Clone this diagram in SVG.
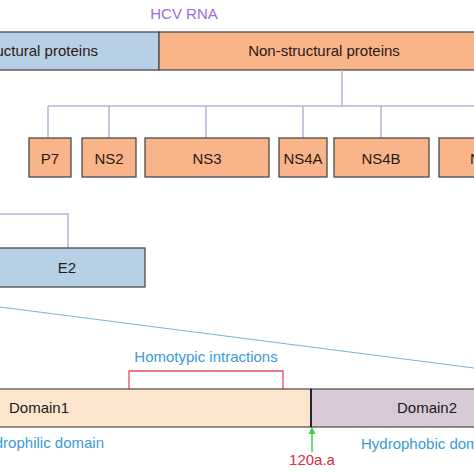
<svg xmlns="http://www.w3.org/2000/svg" width="474" height="474" viewBox="0 0 474 474">
<style>
text{font-family:"Liberation Sans",Arial,sans-serif;font-size:15px}
.lbl{fill:#2a1a12;text-anchor:middle}
.ns{fill:#f9b48a;stroke:#4a4a4a;stroke-width:1.3}
.st{fill:#b8d0e6;stroke:#4a4a4a;stroke-width:1.3}
.con{fill:none;stroke:#bcaee0;stroke-width:1.5}
.blue{fill:#3a9ad8}
</style>
<rect width="474" height="474" fill="#fff"/>
<text x="184" y="19" text-anchor="middle" fill="#9a6ddc">HCV RNA</text>
<g id="structural"><rect class="st" x="-10" y="32" width="169" height="38"/><text x="98" y="56" fill="#2a1a12" text-anchor="end">Structural proteins</text></g>
<g id="nonstructural"><rect class="ns" x="159" y="32" width="330" height="38"/><text class="lbl" x="324" y="56">Non-structural proteins</text></g>
<g id="connectors">
<path class="con" d="M342 70V106M48 106H480M48 106V138M109 106V138M206 106V138M303 106V138M381 106V138"/>
<path class="con" d="M-5 214H68V248"/>
<line x1="0" y1="307" x2="474" y2="368" stroke="#7fb2d8" stroke-width="1.2"/>
<path d="M129 389V371H283V389" fill="none" stroke="#e0505a" stroke-width="1.3"/>
<line x1="312" y1="452" x2="312" y2="432" stroke="#3ad04a" stroke-width="1.5"/>
<path d="M312 427L308.5 434H315.5Z" fill="#3ad04a"/>
</g>
<g id="p7"><rect class="ns" x="29" y="138" width="42" height="39"/><text class="lbl" x="50" y="164">P7</text></g>
<g id="ns2"><rect class="ns" x="82" y="138" width="54" height="39"/><text class="lbl" x="109" y="164">NS2</text></g>
<g id="ns3"><rect class="ns" x="145" y="138" width="124" height="39"/><text class="lbl" x="207" y="164">NS3</text></g>
<g id="ns4a"><rect class="ns" x="279" y="138" width="48" height="39"/><text class="lbl" x="303" y="164">NS4A</text></g>
<g id="ns4b"><rect class="ns" x="334" y="138" width="95" height="39"/><text class="lbl" x="381" y="164">NS4B</text></g>
<g id="ns5a"><rect class="ns" x="439" y="138" width="95" height="39"/><text x="470" y="164" fill="#2a1a12">NS5A</text></g>
<g id="e2"><rect class="st" x="-10" y="248" width="155" height="39"/><text class="lbl" x="67" y="273">E2</text></g>
<text class="blue" x="206" y="362" text-anchor="middle">Homotypic intractions</text>
<g id="domain1"><rect x="-10" y="389" width="321" height="38" fill="#fbe5cf" stroke="#4a4a4a" stroke-width="1.2"/><text x="9" y="413" fill="#1a1a1a">Domain1</text></g>
<g id="domain2"><rect x="311" y="389" width="180" height="38" fill="#d8c9d6" stroke="#4a4a4a" stroke-width="1.2"/><text x="397" y="413" fill="#1a1a1a">Domain2</text></g>
<line x1="311" y1="389" x2="311" y2="427" stroke="#111" stroke-width="1.5"/>
<text class="blue" x="104" y="448" text-anchor="end">Hydrophilic domain</text>
<text class="blue" x="361" y="449">Hydrophobic domain</text>
<text x="312" y="465" text-anchor="middle" fill="#e02840">120a.a</text>
</svg>
